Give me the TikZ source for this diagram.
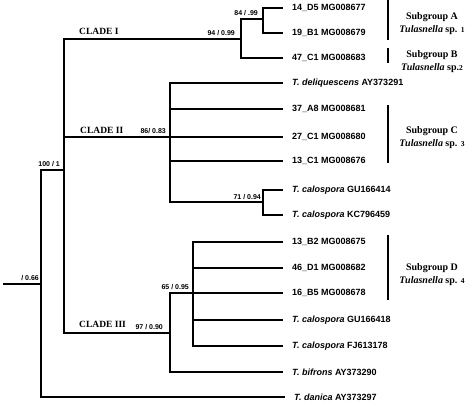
\documentclass[tikz,border=0pt]{standalone}
\usepackage{fontspec}
\setmainfont{Liberation Sans}
\newfontfamily\cladeserif{Liberation Serif}
\usetikzlibrary{positioning}

\newcommand{\spnum}[1]{{\fontsize{7.5}{8}\selectfont #1}}

\begin{document}
\begin{tikzpicture}[
    x=1pt, y=-1pt,
    branch/.style={line width=1.3pt},
    bar/.style={line width=1.3pt},
    taxon/.style={anchor=west, inner sep=1pt, xshift=8pt, font=\fontsize{9}{10}\selectfont\bfseries},
    support/.style={anchor=south east, inner sep=1pt, yshift=2pt, font=\fontsize{7}{8}\selectfont\bfseries},
    clade/.style={anchor=south west, inner sep=1pt, font=\cladeserif\fontsize{9.5}{10}\selectfont\bfseries},
    group/.style={align=center, inner sep=0pt, font=\cladeserif\fontsize{10}{13}\selectfont\bfseries}
]
\useasboundingbox (0,0) rectangle (474,405);

% === INTERNAL NODES ===
\coordinate (base) at (3,284);
\coordinate (root) at (41,284);
\coordinate (n100) at (64,170);
\coordinate (cI) at (241,39);
\coordinate (n84) at (263,19);
\coordinate (cII) at (170,137);
\coordinate (n71) at (263,202);
\coordinate (cIII) at (170,333);
\coordinate (n65) at (193,293);

% === LEAF TIPS ===
\coordinate (t1) at (283,8);
\coordinate (t2) at (283,33);
\coordinate (t3) at (283,58);
\coordinate (t4) at (283,83);
\coordinate (t5) at (283,109);
\coordinate (t6) at (283,137);
\coordinate (t7) at (283,161);
\coordinate (t8) at (283,190);
\coordinate (t9) at (283,215);
\coordinate (t10) at (283,242);
\coordinate (t11) at (283,268);
\coordinate (t12) at (283,293);
\coordinate (t13) at (283,320);
\coordinate (t14) at (283,346);
\coordinate (t15) at (283,372);
\coordinate (t16) at (285,397);

% === BRANCHES ===
\draw[branch] (base) -- (root);
\draw[branch] (root) |- (n100);
\draw[branch] (root) |- (t16);

\draw[branch] (n100) |- (cI);
\draw[branch] (n100) |- (cII);
\draw[branch] (n100) |- (cIII);

% Clade I
\draw[branch] (cI) |- (n84);
\draw[branch] (cI) |- (t3);
\draw[branch] (n84) |- (t1);
\draw[branch] (n84) |- (t2);

% Clade II
\draw[branch] (cII) |- (t4);
\draw[branch] (cII) |- (t5);
\draw[branch] (cII) -- (t6);
\draw[branch] (cII) |- (t7);
\draw[branch] (cII) |- (n71);
\draw[branch] (n71) |- (t8);
\draw[branch] (n71) |- (t9);

% Clade III
\draw[branch] (cIII) |- (n65);
\draw[branch] (cIII) |- (t15);
\draw[branch] (n65) |- (t10);
\draw[branch] (n65) |- (t11);
\draw[branch] (n65) -- (t12);
\draw[branch] (n65) |- (t13);
\draw[branch] (n65) |- (t14);

% === TAXA ===
\node[taxon] (a1) at (t1) {14\_D5 MG008677};
\node[taxon] (a2) at (t2) {19\_B1 MG008679};
\node[taxon] (a3) at (t3) {47\_C1 MG008683};
\node[taxon] (a4) at (t4) {\textit{T. deliquescens} AY373291};
\node[taxon] (a5) at (t5) {37\_A8 MG008681};
\node[taxon] (a6) at (t6) {27\_C1 MG008680};
\node[taxon] (a7) at (t7) {13\_C1 MG008676};
\node[taxon] (a8) at (t8) {\textit{T. calospora} GU166414};
\node[taxon] (a9) at (t9) {\textit{T. calospora} KC796459};
\node[taxon] (a10) at (t10) {13\_B2 MG008675};
\node[taxon] (a11) at (t11) {46\_D1 MG008682};
\node[taxon] (a12) at (t12) {16\_B5 MG008678};
\node[taxon] (a13) at (t13) {\textit{T. calospora} GU166418};
\node[taxon] (a14) at (t14) {\textit{T. calospora} FJ613178};
\node[taxon] (a15) at (t15) {\textit{T. bifrons} AY373290};
\node[taxon] (a16) at (t16) {\textit{T. danica} AY373297};

% === SUPPORT VALUES ===
\node[support, xshift=-1pt] (s66) at (root) {/ 0.66};
\node[support, xshift=-3pt] (s100) at (n100) {100 / 1};
\node[support, xshift=-5pt] (s94) at (cI) {94 / 0.99};
\node[support, xshift=-4pt] (s84) at (n84) {84 / .99};
\node[support, xshift=-3pt] (s86) at (cII) {86/ 0.83};
\node[support, xshift=-1pt, yshift=-1pt] (s71) at (n71) {71 / 0.94};
\node[support, xshift=-3pt] (s65) at (n65) {65 / 0.95};
\node[support, xshift=-6pt] (s97) at (cIII) {97 / 0.90};

% === CLADE LABELS ===
\node[clade] (cladeI) at (78,36) {CLADE I};
\node[clade] (cladeII) at (79,135) {CLADE II};
\node[clade] (cladeIII) at (78,329) {CLADE III};

% === SUBGROUPS ===
\draw[bar] (388,0) -- (388,40);
\draw[bar] (388,48) -- (388,63);
\draw[bar] (388,105) -- (388,163);
\draw[bar] (388,235) -- (388,300);

\node[group] (gA) at (432,24) {Subgroup A\\\textit{Tulasnella} sp. \spnum{1}};
\node[group] (gB) at (432,62) {Subgroup B\\\textit{Tulasnella} sp.\spnum{2}};
\node[group] (gC) at (432,138) {Subgroup C\\\textit{Tulasnella} sp. \spnum{3}};
\node[group] (gD) at (432,275) {Subgroup D\\\textit{Tulasnella} sp. \spnum{4}};

\end{tikzpicture}
\end{document}
